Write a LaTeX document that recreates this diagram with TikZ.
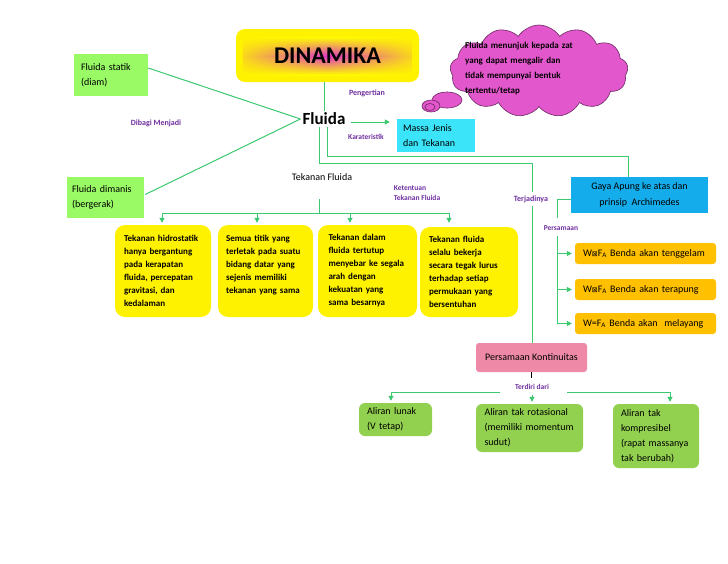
\documentclass[tikz,border=0pt]{standalone}
\usepackage{fontspec}
\setmainfont{Carlito}
\newfontfamily\symfont{DejaVu Sans}
\usetikzlibrary{arrows.meta,shapes.symbols,calc,fadings}
\definecolor{lineg}{RGB}{60,200,110}
\definecolor{purp}{RGB}{112,48,160}
\definecolor{lgreen}{RGB}{153,250,102}
\definecolor{cyanb}{RGB}{60,228,250}
\definecolor{blueb}{RGB}{20,172,235}
\definecolor{orangeb}{RGB}{255,192,0}
\definecolor{pinkb}{RGB}{238,138,168}
\definecolor{greenb}{RGB}{146,208,80}
\definecolor{cloudc}{RGB}{226,88,204}
\definecolor{cloudd}{RGB}{110,40,100}
\definecolor{magb}{RGB}{222,50,200}
\tikzfading[name=fadelr, left color=transparent!85, right color=transparent!85, middle color=transparent!0]
\tikzset{
  conn/.style={draw=lineg, line width=1pt},
  arr/.style={conn, -{Triangle[length=5pt,width=5pt]}, shorten >=2pt},
  lbl/.style={text=purp, font=\bfseries\fontsize{7.5}{10}\selectfont, inner sep=1pt, align=left},
  lblb/.style={lbl, font=\bfseries\fontsize{8}{10}\selectfont},
  box/.style={rectangle, inner sep=0pt, align=left, font=\fontsize{10}{15}\selectfont},
  ybox/.style={box, fill=yellow, rounded corners=10pt, font=\bfseries\fontsize{9}{13}\selectfont},
  obox/.style={box, fill=orangeb, rounded corners=3pt, minimum width=141pt, minimum height=21pt, text width=125pt},
  gbox/.style={box, fill=greenb, rounded corners=6pt},
}
\begin{document}
\begin{tikzpicture}[x=1pt,y=-1pt]
\useasboundingbox (0,0) rectangle (728,563);
\fill[white] (0,0) rectangle (728,563);

% DINAMIKA title
\node[rectangle, fill=yellow, rounded corners=9pt, minimum width=183pt, minimum height=53pt, inner sep=0] (din) at (327.5,55.5) {};
\shade[top color=yellow, bottom color=yellow, middle color=magb, path fading=fadelr] (243,37) rectangle (412,75);
\node[font=\bfseries\fontsize{24}{28}\selectfont, inner sep=0] (dintxt) at (din) {DINAMIKA};

% cloud
\node[cloud, cloud puffs=13, cloud puff arc=115, aspect=2.6, fill=cloudc, draw=cloudd, line width=0.6pt, minimum width=178pt, minimum height=92pt, inner sep=0] (cloud) at (539,71) {};
\draw[fill=cloudc, draw=cloudd, line width=0.6pt] (447,100) ellipse (15pt and 8pt);
\draw[fill=cloudc, draw=cloudd, line width=0.6pt] (431,106) ellipse (9pt and 6pt);
\draw[draw=cloudd, line width=0.6pt] (430,107) ellipse (5pt and 3.5pt);
\node[anchor=west, align=left, inner sep=0, text width=130pt, font=\bfseries\fontsize{9}{15}\selectfont] (cloudtxt) at (465,69) {Fluida menunjuk kepada zat\\yang dapat mengalir dan\\tidak mempunyai bentuk\\tertentu/tetap};

% Fluida
\node[font=\bfseries\fontsize{17}{20}\selectfont, inner sep=2pt] (fluida) at (324,119) {Fluida};
\draw[conn] (din.south -| fluida.north) -- (fluida.north);
\node[lblb] (pengertian) at (367,93) {Pengertian};

% left boxes
\node[box, fill=lgreen, minimum width=74pt, minimum height=42pt, text width=60pt] (statik) at (111,75) {Fluida statik\\(diam)};
\node[box, fill=lgreen, minimum width=77pt, minimum height=41pt, text width=67pt] (dimanis) at (105.5,197.5) {Fluida dimanis\\(bergerak)};
\draw[conn] ($(statik.east)+(0,-7)$) -- (fluida.west);
\draw[conn] ($(dimanis.east)+(1,-3)$) -- (fluida.west);
\node[lblb] (dibagi) at (156,123) {Dibagi Menjadi};

% Massa jenis
\node[box, fill=cyanb, minimum width=78pt, minimum height=33pt, text width=66pt] (massa) at (436,135.5) {Massa Jenis\\dan Tekanan};
\coordinate (fe) at ($(fluida.east)+(0,3)$);
\draw[conn, -{Triangle[length=5pt,width=5pt]}, shorten >=7pt, shorten <=3pt] (fe) -- (fe -| massa.west);
\node[lbl] (karat) at (366,137) {Karateristik};

% Gaya apung
\node[box, fill=blueb, minimum width=137pt, minimum height=36pt, align=center, font=\fontsize{10}{16}\selectfont] (gaya) at (639.5,195) {Gaya Apung ke atas dan\\prinsip\ \ Archimedes};
\coordinate (c2) at (628,156);
\draw[conn] ($(fluida.south)+(3,0)$) |- (c2) -- (c2 |- gaya.north);

% Persamaan Kontinuitas
\node[box, fill=pinkb, rounded corners=3pt, minimum width=111pt, minimum height=29pt, align=center] (pk) at (531.5,357.5) {Persamaan Kontinuitas};
\coordinate (c1) at (532,163);
\draw[conn] ($(fluida.south)+(-5,0)$) |- (c1) -- (c1 |- pk.north);
\node[lblb, fill=white, inner ysep=4pt] (terjadi) at (531,199) {Terjadinya};

% Tekanan fluida tree
\node[inner sep=1pt, font=\fontsize{10}{12}\selectfont] (tf) at (322,177) {Tekanan Fluida};
\node[lbl] (ketentuan) at (417,193) {Ketentuan\\Tekanan Fluida};
\node[ybox, minimum width=96pt, minimum height=92pt, text width=78pt] (y1) at (163,271) {Tekanan hidrostatik\\hanya bergantung\\pada kerapatan\\fluida, percepatan\\gravitasi, dan\\kedalaman};
\node[ybox, minimum width=95pt, minimum height=92pt, text width=79pt] (y2) at (265.5,271) {Semua titik yang\\terletak pada suatu\\bidang datar yang\\sejenis memiliki\\tekanan yang sama\\\mbox{}};
\node[ybox, minimum width=99pt, minimum height=92pt, text width=78pt] (y3) at (367.5,271) {Tekanan dalam\\fluida tertutup\\menyebar ke segala\\arah dengan\\kekuatan yang\\sama besarnya};
\node[ybox, minimum width=98pt, minimum height=90pt, text width=80pt] (y4) at (469,272) {Tekanan fluida\\selalu bekerja\\secara tegak lurus\\terhadap setiap\\permukaan yang\\bersentuhan};
\coordinate (ts) at (319,199);
\coordinate (tb) at (319,213);
\coordinate (bl) at (162,213);
\coordinate (b2) at (257,213);
\coordinate (b3) at (350,213);
\coordinate (br) at (449,213);
\draw[conn] (ts) -- (tb);
\draw[conn] (bl) -- (br);
\draw[arr] (bl) -- (bl |- y1.north);
\draw[arr] (b2) -- (b2 |- y2.north);
\draw[arr] (b3) -- (b3 |- y3.north);
\draw[arr, shorten >=4pt] (br) -- (br |- y4.north);

% Archimedes branches
\node[obox] (o1) at (645.5,253.5) {W{\symfont\fontsize{7}{8}\selectfont ⊠}F\textsubscript{A} Benda akan tenggelam};
\node[obox] (o2) at (645.5,289.5) {W{\symfont\fontsize{7}{8}\selectfont ⊠}F\textsubscript{A} Benda akan terapung};
\node[obox] (o3) at (645.5,323.5) {W=F\textsubscript{A} Benda akan\ \ melayang};
\coordinate (gp) at (557,218);
\coordinate (gq) at (557,236);
\draw[conn] ($(gaya.west)+(0,4)$) -| (gp);
\node[lbl] (persamaan) at (561,228) {Persamaan};
\draw[conn] (gq) -- (gq |- o3.west);
\draw[arr, shorten >=3pt] (gq |- o1.west) -- (o1.west);
\draw[arr, shorten >=3pt] (gq |- o2.west) -- (o2.west);
\draw[arr, shorten >=3pt] (gq |- o3.west) -- (o3.west);

% Kontinuitas branches
\node[gbox, minimum width=73pt, minimum height=33pt, text width=57pt] (g1) at (395.5,419.5) {Aliran lunak\\(V tetap)};
\node[gbox, minimum width=107pt, minimum height=48pt, text width=90pt] (g2) at (529.5,428) {Aliran tak rotasional\\(memiliki momentum\\sudut)};
\node[gbox, minimum width=86pt, minimum height=64pt, text width=70pt] (g3) at (656,436) {Aliran tak\\kompresibel\\(rapat massanya\\tak berubah)};
\draw[black, line width=1pt] (pk.south) -- ++(0,6) coordinate (pks);
\node[lbl] (terdiri) at (532,387) {Terdiri dari};
\coordinate (kl) at (391,392);
\coordinate (kml) at (500,392);
\coordinate (kmr) at (567,392);
\coordinate (kr) at (670,392);
\coordinate (km) at (532,395);
\draw[conn] (kl) -- (kml);
\draw[conn] (kmr) -- (kr);
\draw[arr] (kl) -- (kl |- g1.north);
\draw[arr] (km) -- (km |- g2.north);
\draw[arr] (kr) -- (kr |- g3.north);
\end{tikzpicture}
\end{document}
